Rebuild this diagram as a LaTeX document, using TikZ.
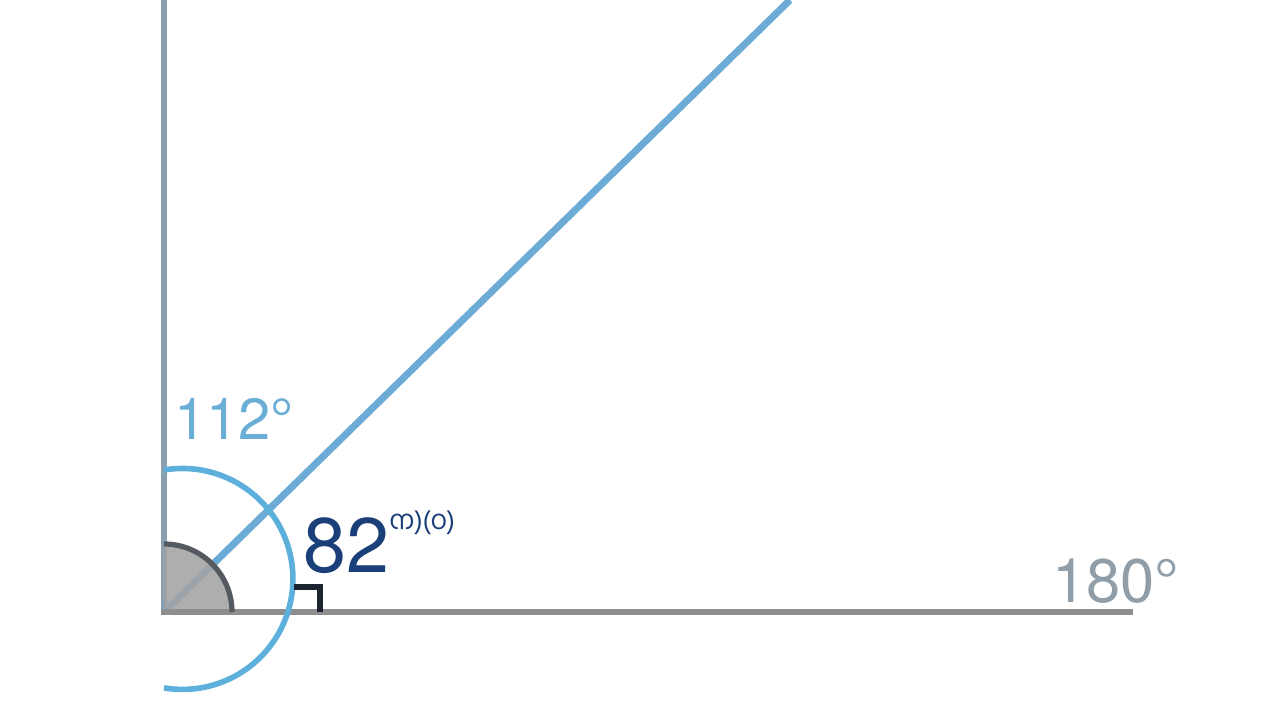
\documentclass[tikz,border=0pt]{standalone}
\usepackage{fontspec}
\usepackage{tikz}
\usetikzlibrary{calc}
\setmainfont{TeX Gyre Heros}
\newfontfamily\mlfont[Script=Malayalam]{Hind Kochi}
\definecolor{vline}{HTML}{8A9FB0}
\definecolor{hline}{HTML}{8E8E8E}
\definecolor{dline}{HTML}{6BABD6}
\definecolor{arcblue}{HTML}{5EB0DC}
\definecolor{sectfill}{HTML}{A3A3A3}
\definecolor{sectedge}{HTML}{555A60}
\definecolor{rmark}{HTML}{1C2430}
\definecolor{lblblue}{HTML}{6AAED6}
\definecolor{lblgray}{HTML}{8F9EA8}
\definecolor{lbldark}{HTML}{1B3F78}

\begin{document}
\begin{tikzpicture}[x=0.02cm, y=0.02cm]
\useasboundingbox (0, 0) rectangle (1280, 720);

\coordinate (O) at (164, 108);
\coordinate (top) at (164, 720);
\coordinate (xend) at (1133, 108);
\coordinate (dend) at (790, 720);

\draw[line width=3.6pt, color=vline] (O) -- (top);
\draw[line width=4pt, color=dline] (O) -- (dend);

% shaded sector at the corner
\fill[color=sectfill, opacity=0.88] (O) -- ++(68, 0) arc[start angle=0, end angle=90, radius=68] -- cycle;
\draw[line width=3.6pt, color=hline] ($(O)+(-3, 0)$) -- (xend);
\draw[line width=3pt, color=sectedge] ($(O)+(68, 0)$) arc[start angle=0, end angle=90, radius=68];

% large open arc
\draw[line width=3.2pt, color=arcblue] (164, 250) arc[start angle=99.6, end angle=-99.6, radius=110.5];

% right angle mark
\draw[line width=3pt, color=rmark] (294, 133) -- (320, 133) -- (320, 108);

\node[anchor=base west, color=lblblue, font=\fontsize{33}{38}\selectfont] (a) at (168, 280) {112°};
\node[anchor=base west, color=lblgray, font=\fontsize{35}{40}\selectfont] (b) at (1046, 118) {180°};
\node[anchor=base west, color=lbldark, inner sep=0pt] (c) at (303, 148)
  {\fontsize{44}{48}\selectfont 82\raisebox{24pt}{\mlfont\fontsize{15}{18}\selectfont ന)(ഠ)}};
\end{tikzpicture}
\end{document}
